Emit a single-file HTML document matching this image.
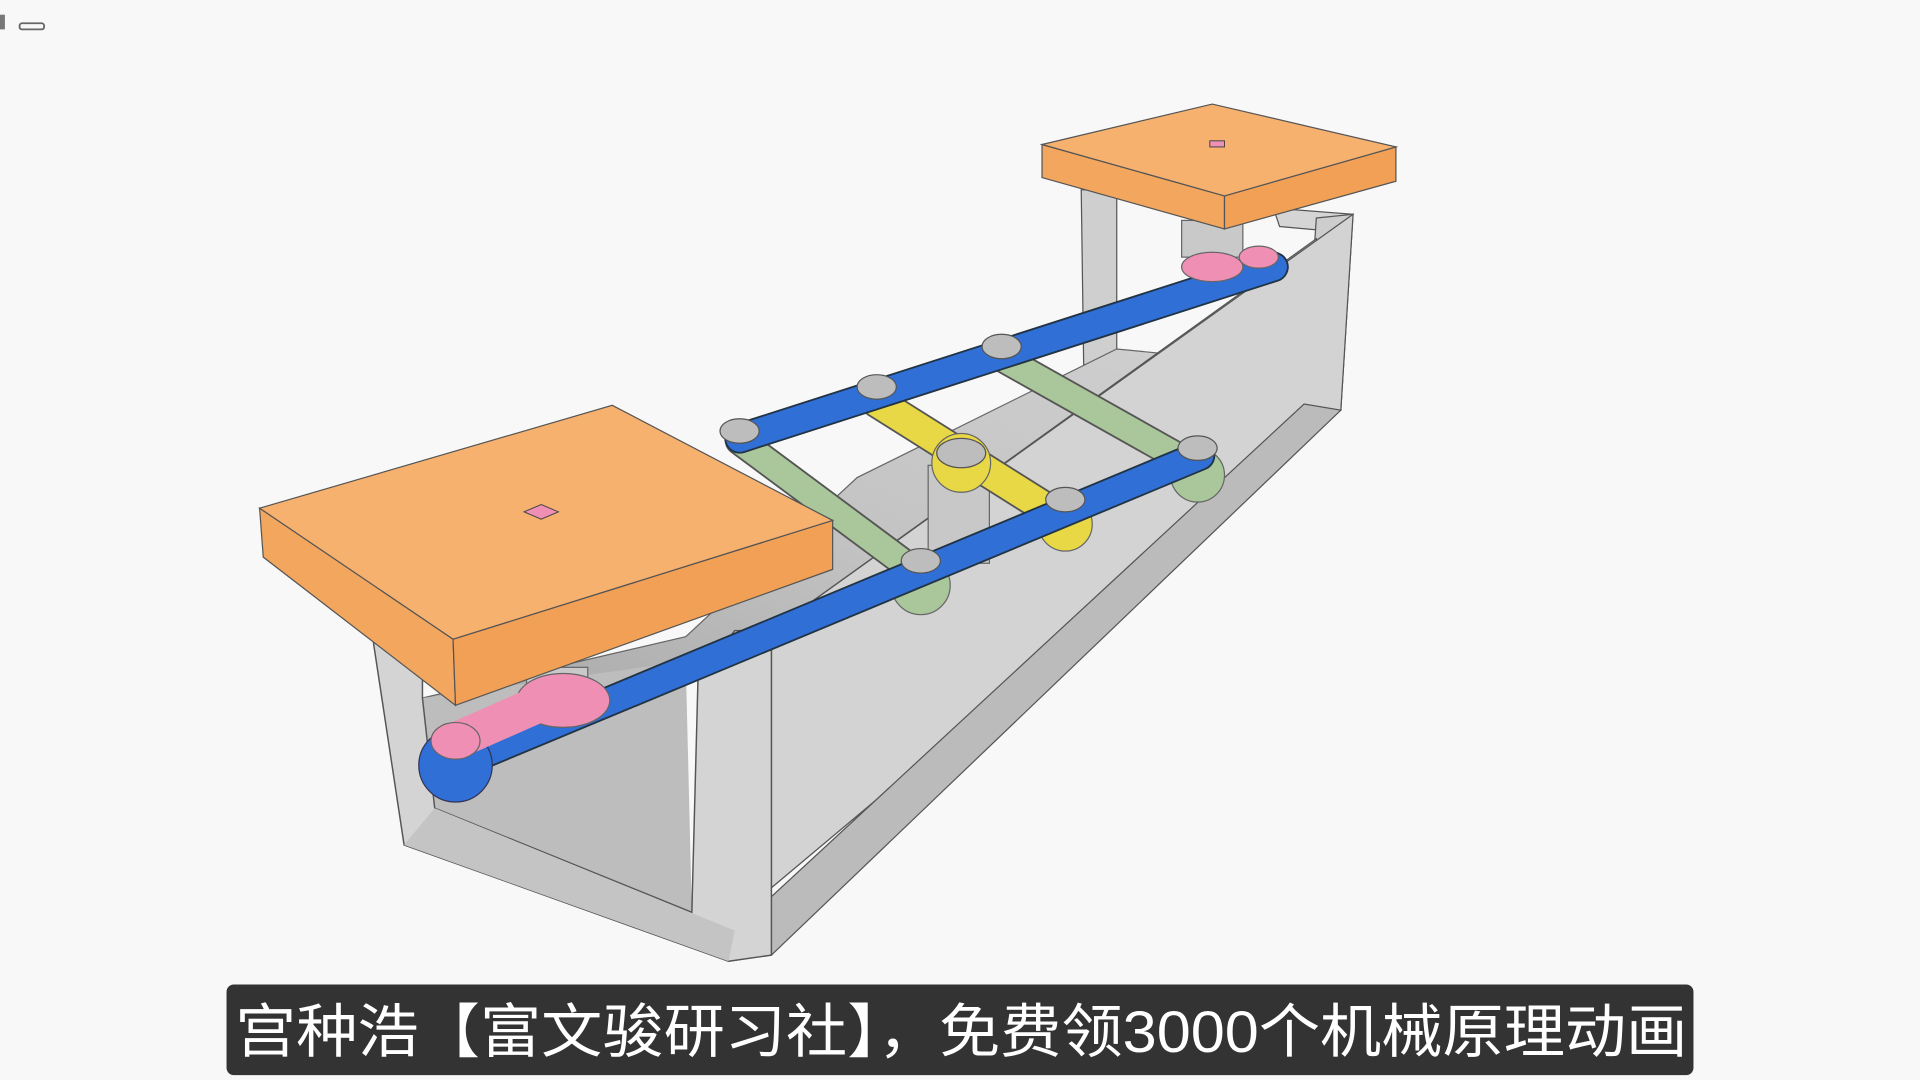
<!DOCTYPE html>
<html><head><meta charset="utf-8"><style>
html,body{margin:0;padding:0;background:#f8f8f8;width:1920px;height:1080px;overflow:hidden}
svg{display:block}
</style></head><body>
<svg width="1920" height="1080" viewBox="0 0 1568 882" xmlns="http://www.w3.org/2000/svg">
<defs>
<linearGradient id="fl" x1="0" y1="1" x2="1" y2="0"><stop offset="0" stop-color="#a9a9a9"/><stop offset="0.5" stop-color="#c4c4c4"/><stop offset="1" stop-color="#d0d0d0"/></linearGradient>
</defs>
<rect width="1568" height="882" fill="#f8f8f8"/>
<rect x="0" y="12" width="4" height="12" fill="#777"/>
<rect x="16" y="19" width="20" height="5" rx="2" fill="none" stroke="#666" stroke-width="1.5"/>

<polygon points="883,155 912,155 912,295 885,298" fill="#cfcfcf" stroke="#555" stroke-width="1"/>
<polygon points="1040,170 1105,175 1100,190 1045,185" fill="#d5d5d5" stroke="#555" stroke-width="1"/>
<polygon points="1075,178 1105,175 1095,335 1065,328" fill="#cdcdcd" stroke="#555" stroke-width="1"/>
<polygon points="345,570 565,555 1065,300 912,285 700,390 560,520" fill="url(#fl)" stroke="#666" stroke-width="1"/>
<polygon points="345,570 560,540 565,745 355,660" fill="#bdbdbd"/>
<polygon points="600,515 630,515 1075,195 1065,328 620,720" fill="#c9c9c9" stroke="#555" stroke-width="1"/>
<polygon points="630,515 1105,175 1095,335 630,725" fill="#d3d3d3" stroke="#555" stroke-width="1"/>
<polygon points="595,785 630,780 1095,335 1065,330 600,760" fill="#bbbbbb" stroke="#555" stroke-width="1"/>
<polygon points="305,525 345,520 345,570 355,660 565,745 570,555 600,515 630,515 630,780 595,785 330,690" fill="#d4d4d4" stroke="#555" stroke-width="1.2"/>
<polygon points="330,690 595,785 600,760 355,660" fill="#c4c4c4"/>

<line x1="604" y1="360" x2="752" y2="470" stroke="#555" stroke-width="24" stroke-linecap="round"/>
<line x1="604" y1="360" x2="752" y2="470" stroke="#a9c79a" stroke-width="21" stroke-linecap="round"/>
<line x1="818" y1="292" x2="978" y2="382" stroke="#555" stroke-width="24" stroke-linecap="round"/>
<line x1="818" y1="292" x2="978" y2="382" stroke="#a9c79a" stroke-width="21" stroke-linecap="round"/>
<circle cx="752" cy="478" r="24" fill="#a9c79a" stroke="#666"/>
<circle cx="978" cy="388" r="22" fill="#a9c79a" stroke="#666"/>
<rect x="758" y="380" width="50" height="80" fill="#c8c8c8" stroke="#666"/>
<line x1="716" y1="328" x2="870" y2="425" stroke="#555" stroke-width="27" stroke-linecap="round"/>
<line x1="716" y1="328" x2="870" y2="425" stroke="#e8d845" stroke-width="24" stroke-linecap="round"/>
<circle cx="785" cy="378" r="24" fill="#e8d845" stroke="#666"/>
<circle cx="870" cy="428" r="22" fill="#e8d845" stroke="#666"/>
<line x1="604" y1="358" x2="1040" y2="218" stroke="#234" stroke-width="25" stroke-linecap="round"/>
<line x1="604" y1="358" x2="1040" y2="218" stroke="#2f6fd6" stroke-width="22" stroke-linecap="round"/>
<line x1="372" y1="625" x2="980" y2="372" stroke="#234" stroke-width="25" stroke-linecap="round"/>
<line x1="372" y1="625" x2="980" y2="372" stroke="#2f6fd6" stroke-width="22" stroke-linecap="round"/>
<circle cx="372" cy="625" r="30" fill="#2f6fd6" stroke="#335"/>
<g fill="#bdbdbd" stroke="#555" stroke-width="1">
<ellipse cx="604" cy="352" rx="16" ry="10"/><ellipse cx="716" cy="316" rx="16" ry="10"/>
<ellipse cx="818" cy="283" rx="16" ry="10"/><ellipse cx="978" cy="366" rx="16" ry="10"/>
<ellipse cx="870" cy="408" rx="16" ry="10"/><ellipse cx="752" cy="458" rx="16" ry="10"/>
<ellipse cx="785" cy="370" rx="20" ry="12"/>
</g>
<rect x="965" y="180" width="50" height="30" fill="#c9c9c9" stroke="#666"/>
<ellipse cx="990" cy="218" rx="25" ry="12" fill="#ef8fb3" stroke="#666"/>
<ellipse cx="1028" cy="210" rx="16" ry="9" fill="#ef8fb3" stroke="#666"/>
<rect x="430" y="545" width="50" height="30" fill="#c9c9c9" stroke="#666"/>
<ellipse cx="460" cy="572" rx="38" ry="22" fill="#ef8fb3" stroke="#666"/>
<line x1="372" y1="605" x2="440" y2="575" stroke="#ef8fb3" stroke-width="30" stroke-linecap="round"/>
<ellipse cx="372" cy="605" rx="20" ry="15" fill="#ef8fb3" stroke="#666"/>

<polygon points="851,118 851,145 1000,187 1000,160" fill="#f3a75e" stroke="#555"/>
<polygon points="1000,160 1140,120 1140,148 1000,187" fill="#f1a055" stroke="#555"/>
<polygon points="851,118 990,85 1140,120 1000,160" fill="#f6b16f" stroke="#555"/>
<rect x="988" y="115" width="12" height="5" fill="#ef8fb3" stroke="#444" stroke-width=".8"/>

<polygon points="212,415 215,455 372,576 370,522" fill="#f3a75e" stroke="#555"/>
<polygon points="370,522 680,425 680,465 372,576" fill="#f1a055" stroke="#555"/>
<polygon points="212,415 500,331 680,425 370,522" fill="#f6b16f" stroke="#555"/>
<polygon points="428,418 442,412 456,418 442,424" fill="#ef8fb3" stroke="#444" stroke-width=".8"/>

<rect x="185" y="804" width="1198" height="74" rx="6" fill="#333333"/>
<text x="192" y="859" textLength="1186" lengthAdjust="spacingAndGlyphs" fill="#ffffff" font-size="48" font-family="'Liberation Sans','Noto Sans CJK SC',sans-serif">宫种浩【富文骏研习社】，免费领3000个机械原理动画</text>
</svg>
</body></html>
